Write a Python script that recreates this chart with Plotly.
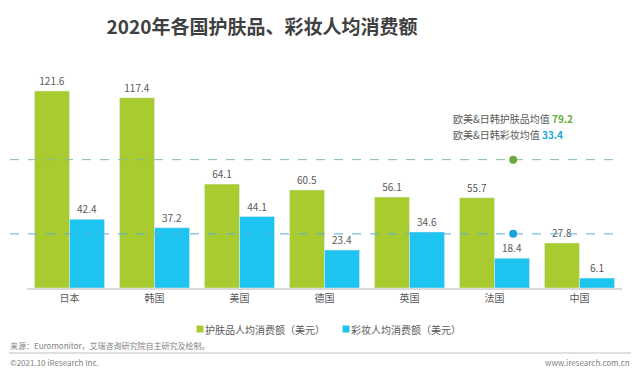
import plotly.graph_objects as go

categories = ["日本", "韩国", "美国", "德国", "英国", "法国", "中国"]
skincare = [121.6, 117.4, 64.1, 60.5, 56.1, 55.7, 27.8]
makeup = [42.4, 37.2, 44.1, 23.4, 34.6, 18.4, 6.1]
skincare_avg = 79.2
makeup_avg = 33.4
series_names = ["护肤品人均消费额（美元）", "彩妆人均消费额（美元）"]

GREEN = "#A8CB30"
BLUE = "#1EC4F0"
FONT = "Noto Sans CJK SC"
TXT = "#595959"
FOOT = "#7F7F7F"

# page body has an 8px default margin; figure is sized/offset to compensate
OFF = 8
W, H = 640 - 2 * OFF, 375 - 2 * OFF
PL, PR, PT, PB = 27, 622, 77, 288  # plot area in reference pixels

def px2x(p):
    return (p - PL) / (PR - PL)

def py2y(p):
    return (PB - p) / (PB - PT)

fig = go.Figure()
fig.add_bar(x=categories, y=skincare, name=series_names[0], marker_color=GREEN,
            text=[f"{v:.1f}" for v in skincare], textposition="outside", constraintext="none",
            textfont=dict(size=10, color=TXT, family=FONT), cliponaxis=False, showlegend=False)
fig.add_bar(x=categories, y=makeup, name=series_names[1], marker_color=BLUE,
            text=[f"{v:.1f}" for v in makeup], textposition="outside", constraintext="none",
            textfont=dict(size=10, color=TXT, family=FONT), cliponaxis=False, showlegend=False)

shapes = []
for val, col in [(skincare_avg, "#85BBA0"), (makeup_avg, "#5AB0E0")]:
    shapes.append(dict(type="line", xref="paper", yref="y", x0=px2x(10), x1=px2x(620),
                       y0=val, y1=val, line=dict(color=col, width=1, dash="dash"),
                       layer="above"))
for val, col in [(skincare_avg, "#6AAA3F"), (makeup_avg, "#1AA3DD")]:
    shapes.append(dict(type="circle", xref="x", yref="y", xsizemode="pixel", ysizemode="pixel",
                       xanchor=5.22, yanchor=val, x0=-4, x1=4, y0=-4, y1=4,
                       fillcolor=col, line=dict(width=0), layer="above"))
# footer separator line
shapes.append(dict(type="line", xref="paper", yref="paper",
                   x0=px2x(9), x1=px2x(631), y0=py2y(353), y1=py2y(353),
                   line=dict(color="#BFBFBF", width=1)))

annotations = [
    dict(text=f"欧美&日韩护肤品均值 <b><span style='color:#6AAA3F'>{skincare_avg}</span></b>",
         xref="paper", yref="paper", x=px2x(451), y=py2y(118), xanchor="left", yanchor="middle",
         showarrow=False, font=dict(size=10, color=TXT, family=FONT)),
    dict(text=f"欧美&日韩彩妆均值 <b><span style='color:#1AA8E0'>{makeup_avg}</span></b>",
         xref="paper", yref="paper", x=px2x(451), y=py2y(134), xanchor="left", yanchor="middle",
         showarrow=False, font=dict(size=10, color=TXT, family=FONT)),
    dict(text="来源：Euromonitor，艾瑞咨询研究院自主研究及绘制。",
         xref="paper", yref="paper", x=px2x(8), y=py2y(345), xanchor="left", yanchor="middle",
         showarrow=False, font=dict(size=8, color=FOOT, family=FONT)),
    dict(text="©2021.10 iResearch Inc.",
         xref="paper", yref="paper", x=px2x(8), y=py2y(362), xanchor="left", yanchor="middle",
         showarrow=False, font=dict(size=8, color=FOOT, family=FONT)),
    dict(text="www.iresearch.com.cn",
         xref="paper", yref="paper", x=px2x(632), y=py2y(362), xanchor="right", yanchor="middle",
         showarrow=False, font=dict(size=8, color=FOOT, family=FONT)),
]

# custom legend
for name, col, sx in [(series_names[0], GREEN, 200), (series_names[1], BLUE, 346)]:
    shapes.append(dict(type="rect", xref="paper", yref="paper", xsizemode="pixel", ysizemode="pixel",
                       xanchor=px2x(sx), yanchor=py2y(329), x0=-3.5, x1=3.5, y0=-3.5, y1=3.5,
                       fillcolor=col, line=dict(width=0)))
    annotations.append(dict(text=name, xref="paper", yref="paper", x=px2x(sx + 3), y=py2y(329),
                            xanchor="left", yanchor="middle", showarrow=False,
                            font=dict(size=10, color=TXT, family=FONT)))

fig.update_layout(
    width=W, height=H,
    margin=dict(l=PL - OFF, r=W - (PR - OFF), t=PT - OFF, b=H - (PB - OFF), autoexpand=False),
    paper_bgcolor="white", plot_bgcolor="white",
    title=dict(text="<b>2020年各国护肤品、彩妆人均消费额</b>", x=(262 - OFF) / W, xanchor="center",
               y=1 - (27 - OFF) / H, yanchor="middle", xref="container", yref="container",
               font=dict(size=19, color="#404040", family=FONT)),
    barmode="group", bargap=0.176, bargroupgap=0,
    xaxis=dict(showgrid=False, showline=True, linecolor="#D9D9D9", linewidth=2,
               ticks="", tickfont=dict(size=10, color=TXT, family=FONT), automargin=False),
    yaxis=dict(range=[0, 130.2], visible=False, showgrid=False, zeroline=False, automargin=False),
    shapes=shapes, annotations=annotations, showlegend=False,
)

fig.write_html("out.html")
